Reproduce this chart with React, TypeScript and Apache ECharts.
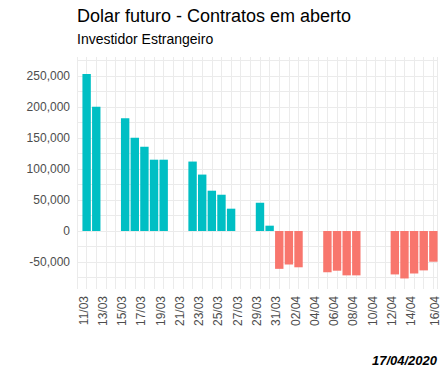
import React, { useEffect, useRef } from "react";
import * as echarts from "echarts";

// Day labels of the x axis (one per day, index 0 = 11/03)
const axisDays = [
  "11/03", "12/03", "13/03", "14/03", "15/03", "16/03", "17/03", "18/03", "19/03", "20/03",
  "21/03", "22/03", "23/03", "24/03", "25/03", "26/03", "27/03", "28/03", "29/03", "30/03",
  "31/03", "01/04", "02/04", "03/04", "04/04", "05/04", "06/04", "07/04", "08/04", "09/04",
  "10/04", "11/04", "12/04", "13/04", "14/04", "15/04", "16/04",
];

// Dates that have a bar
const barDates = [
  "11/03", "12/03", "15/03", "16/03", "17/03", "18/03", "19/03", "22/03", "23/03", "24/03",
  "25/03", "26/03", "29/03", "30/03", "31/03", "01/04", "02/04", "05/04", "06/04", "07/04",
  "08/04", "12/04", "13/04", "14/04", "15/04", "16/04",
];

// Open contracts (foreign investors)
const contracts = [
  253000, 200500, 182000, 150500, 136000, 115000, 115000, 112000, 91000, 65000,
  58500, 36000, 45500, 8600, -61000, -54000, -58500, -66500, -64000, -71500,
  -71500, -70000, -76500, -68500, -63500, -49500,
];

const yLabelValues = [-50000, 0, 50000, 100000, 150000, 200000, 250000];
const yGridValues = [-75000, -50000, -25000, 0, 25000, 50000, 75000, 100000, 125000, 150000, 175000, 200000, 225000, 250000, 275000];

const titleText = "Dolar futuro - Contratos em aberto";
const subtitleText = "Investidor Estrangeiro";
const captionText = "17/04/2020";

const POS = "#00BFC4";
const NEG = "#F8766D";

export default function App() {
  const ref = useRef<HTMLDivElement>(null);

  useEffect(() => {
    if (!ref.current) return;
    const chart = echarts.init(ref.current, null, { renderer: "svg" });
    const font = "'Liberation Sans', Arial, sans-serif";
    const data = barDates.map((d, i) => ({
      value: [axisDays.indexOf(d), contracts[i]],
      itemStyle: { color: contracts[i] >= 0 ? POS : NEG },
    }));

    chart.setOption({
      animation: false,
      backgroundColor: "#ffffff",
      textStyle: { fontFamily: font },
      grid: { left: 77, right: 7.5, top: 57, bottom: 86, containLabel: false },
      xAxis: {
        type: "value",
        min: -1,
        max: 36.43,
        interval: 1,
        axisLine: { show: false },
        axisTick: { show: false },
        splitLine: { show: true, lineStyle: { color: "#EBEBEB", width: 1 } },
        axisLabel: {
          rotate: 90,
          fontSize: 12,
          color: "#4D4D4D",
          fontFamily: font,
          margin: 7,
          verticalAlign: "bottom",
          lineHeight: 6,
          showMinLabel: true,
          showMaxLabel: true,
          formatter: (v: number) => {
            const i = Math.round(v);
            if (i < 0 || i % 2 !== 0) return "";
            return axisDays[i] || "";
          },
        },
      },
      yAxis: {
        type: "value",
        min: -93500,
        max: 280600,
        axisLine: { show: false },
        axisTick: { show: false, customValues: yGridValues },
        splitLine: { show: true, lineStyle: { color: "#EBEBEB", width: 1 } },
        axisLabel: {
          customValues: yLabelValues,
          fontSize: 12,
          color: "#4D4D4D",
          fontFamily: font,
          margin: 7,
          formatter: (v: number) => v.toLocaleString("en-US"),
        },
      },
      series: [
        {
          type: "bar",
          data,
          barWidth: 8.4,
        },
      ],
      graphic: [
        {
          type: "text",
          left: 77,
          top: 7,
          style: { text: titleText, fontSize: 18, fill: "#000000", fontFamily: font },
        },
        {
          type: "text",
          left: 77,
          top: 32,
          style: { text: subtitleText, fontSize: 14, fill: "#000000", fontFamily: font },
        },
        {
          type: "text",
          right: 8,
          top: 354,
          style: {
            text: captionText,
            fontSize: 13,
            fontWeight: "bold",
            fontStyle: "italic",
            fill: "#000000",
            fontFamily: font,
          },
        },
      ],
    });
    return () => chart.dispose();
  }, []);

  return (
    <div
      ref={ref}
      style={{ position: "fixed", left: 0, top: 0, width: 445, height: 375, background: "#fff" }}
    />
  );
}
